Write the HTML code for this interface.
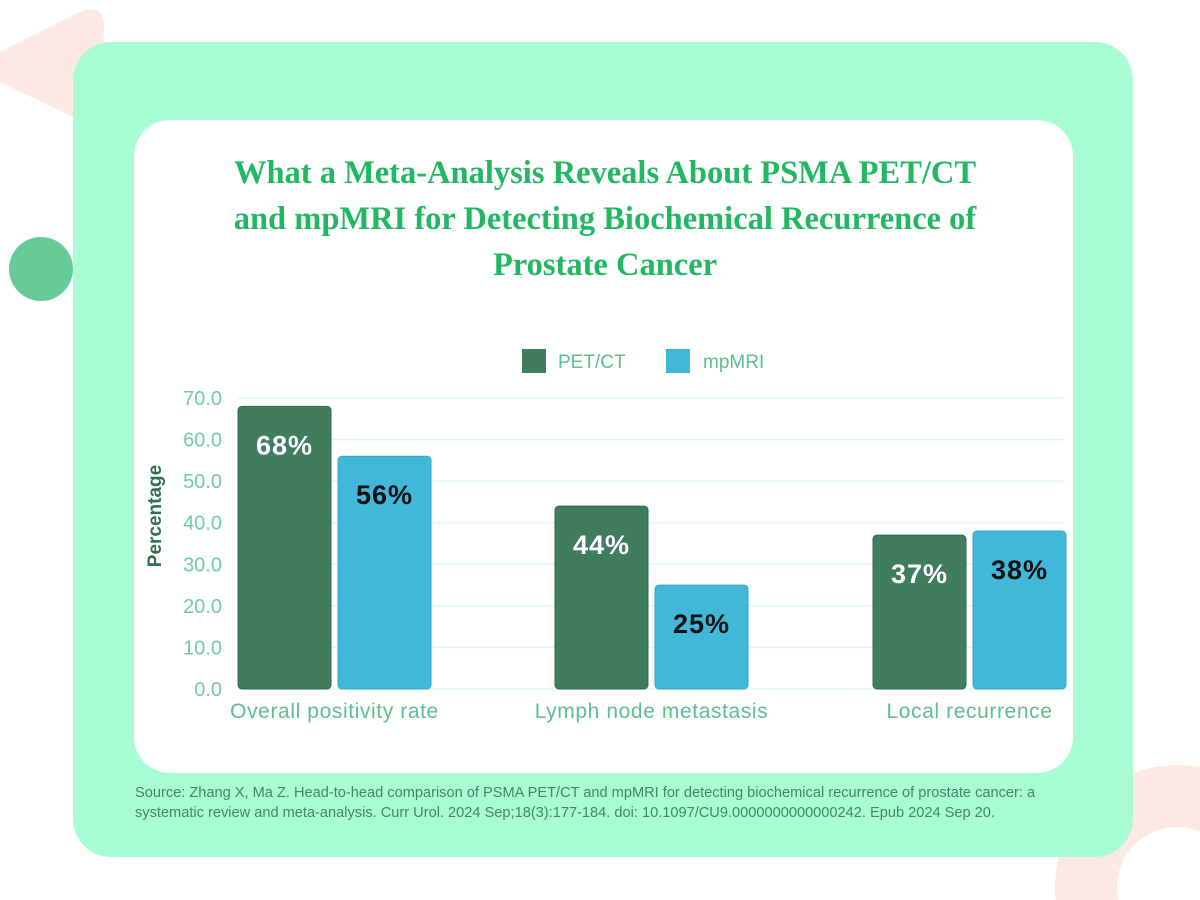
<!DOCTYPE html>
<html><head><meta charset="utf-8"><style>
html,body{margin:0;width:1200px;height:900px;overflow:hidden;background:#fff;font-family:"Liberation Sans",sans-serif;}
svg{display:block;overflow:hidden;}
</style></head><body>
<svg width="1200" height="900" viewBox="0 0 1200 900" xmlns="http://www.w3.org/2000/svg">
<path d="M0 52 L80 12 Q104 2 104 28 L100 130 L0 82 Z" fill="#fde9e3"/>
<circle cx="1177" cy="887" r="91" fill="none" stroke="#fde9e3" stroke-width="62"/>
<rect x="73" y="42" width="1060" height="815" rx="38" fill="#a8fdd3"/>
<circle cx="41" cy="269" r="32" fill="#66cb96"/>
<rect x="134" y="120" width="939" height="653" rx="36" fill="#fff"/>
<g font-family="Liberation Serif, serif" font-weight="bold" font-size="32.5" fill="#22b862" text-anchor="middle">
<text x="605" y="183">What a Meta-Analysis Reveals About PSMA PET/CT</text>
<text x="605" y="229">and mpMRI for Detecting Biochemical Recurrence of</text>
<text x="605" y="275">Prostate Cancer</text>
</g>
<g>
<rect x="522" y="349" width="24" height="24" fill="#3f7d5d"/>
<text x="558" y="368" font-size="19" fill="#5cbf8c">PET/CT</text>
<rect x="666" y="349" width="24" height="24" fill="#42b8d8"/>
<text x="703" y="368" font-size="19" fill="#5cbf8c">mpMRI</text>
</g>
<text transform="translate(161,516) rotate(-90)" text-anchor="middle" font-size="19" font-weight="bold" fill="#2e7050">Percentage</text>
<g id="chart"></g>
<g font-size="14.6" fill="#3f8a63">
<text x="135" y="797">Source: Zhang X, Ma Z. Head-to-head comparison of PSMA PET/CT and mpMRI for detecting biochemical recurrence of prostate cancer: a</text>
<text x="135" y="817">systematic review and meta-analysis. Curr Urol. 2024 Sep;18(3):177-184. doi: 10.1097/CU9.0000000000000242. Epub 2024 Sep 20.</text>
</g>
</svg>
<script>
const categories=["Overall positivity rate","Lymph node metastasis","Local recurrence"];
const petValues=[68,44,37];
const mriValues=[56,25,38];
const tickValues=[0,10,20,30,40,50,60,70];
const NS="http://www.w3.org/2000/svg";
const g=document.getElementById('chart');
const y0=689,yTop=398,yMax=70,xL=228,xR=1065;
const groupStart=[238,555,873];
const barW=93,gap=7;
function y(v){return y0-(v/yMax)*(y0-yTop);}
function mk(t,a){const e=document.createElementNS(NS,t);for(const k in a)e.setAttribute(k,a[k]);g.appendChild(e);return e;}
tickValues.forEach(t=>{
  const l=mk('line',{x1:xL+10,x2:xR,y1:y(t),y2:y(t),stroke:'#e3f6ee','stroke-width':1.5});
  
  
  const tx=mk('text',{x:222,y:y(t)+7,'text-anchor':'end','font-size':20,fill:'#6fcc9d'});
  tx.textContent=t.toFixed(1);
  
  
});
categories.forEach((c,i)=>{
  const x1=groupStart[i],x2=x1+barW+gap;
  [[petValues[i],x1,'#3f7d5d','#2f6a4c','#fff','bar-petct'],[mriValues[i],x2,'#42b8d8','#36a6c4','#111','bar-mpmri']].forEach(([v,x,f,s,tc,n])=>{
    const r=mk('rect',{x:x,y:y(v),width:barW,height:y0-y(v),rx:4,fill:f,stroke:s,'stroke-width':1});
    
    
    const t=mk('text',{x:x+barW/2,y:y(v)+48,'text-anchor':'middle','font-size':27,'font-weight':'bold',fill:tc,'letter-spacing':1});
    t.textContent=v+'%';
    
    
  });
  const ct=mk('text',{x:x1+barW+gap/2,y:718,'text-anchor':'middle','font-size':21,fill:'#5cbf8c','letter-spacing':0.6});
  ct.textContent=c;
  
  
});
</script>
</body></html>
